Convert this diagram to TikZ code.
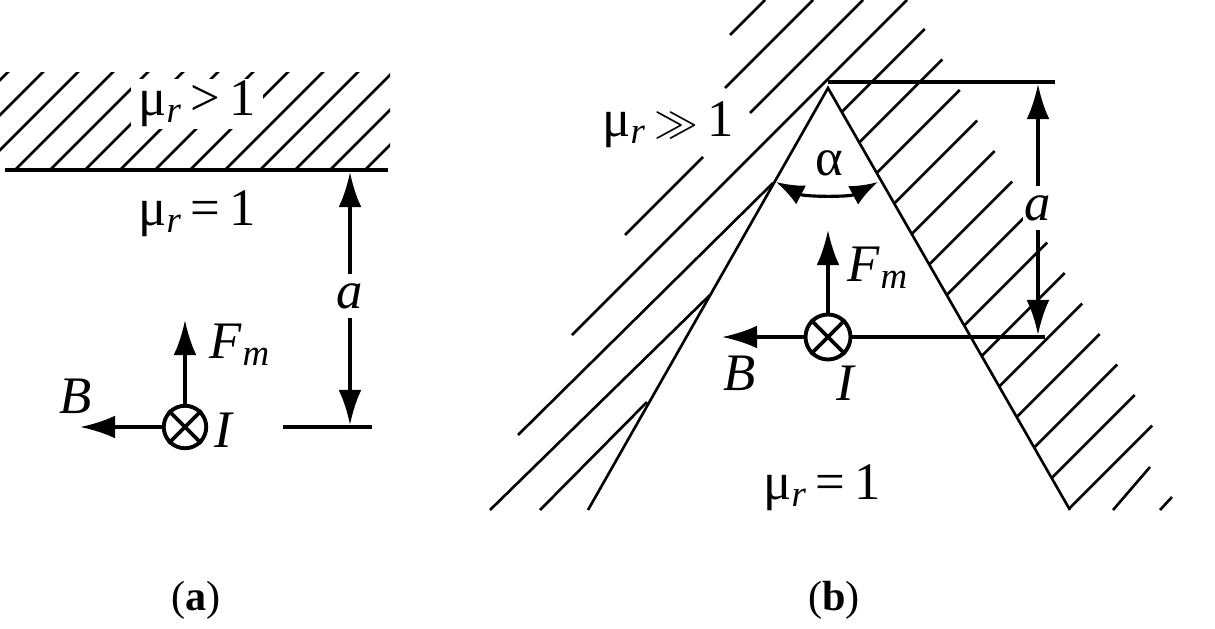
\documentclass[tikz,border=0pt]{standalone}
\usepackage{fontspec}
\setmainfont{Liberation Serif}
\usetikzlibrary{arrows.meta}
\begin{document}
\begin{tikzpicture}[x=0.02cm,y=-0.02cm,
  hl/.style={line width=1.5pt},
  thick2/.style={line width=2.2pt},
  arr/.style={line width=2pt,-{Latex[length=20pt,width=13pt]}},
  lab/.style={font=\fontsize{30}{32}\selectfont, inner sep=1pt},
  captxt/.style={font=\fontsize{24}{26}\selectfont}]
\useasboundingbox (0,0) rectangle (1215,629);
% ---------- (a)
\begin{scope}
\clip (0,72) rectangle (390,170);
\foreach \x in {-90,-55,...,400} \draw[hl] (\x,170) -- ++(110,-110);
\end{scope}
\node[lab,fill=white,inner xsep=4pt] (mua) at (197,104) {μ\textsubscript{\textit{r}}\,>\,1};
\draw[thick2] (5,170) -- (388,170);
\node[lab] (mua1) at (197,214) {μ\textsubscript{\textit{r}}\,=\,1};
\node[draw,circle,thick2,minimum size=0.85cm,inner sep=0] (Ia) at (185,427) {};
\draw[thick2] (Ia.north west) -- (Ia.south east) (Ia.north east) -- (Ia.south west);
\coordinate (fa) at (185,320);
\coordinate (ba) at (80,427);
\draw[arr] (Ia.north) -- (fa);
\draw[arr] (Ia.west) -- (ba);
\node[lab] (Fma) at (240,345) {\textit{F}\textsubscript{\textit{m}}};
\node[lab] (Ba) at (76,396) {\textit{B}};
\node[lab] (Ila) at (224,430) {\textit{I}};
\coordinate (da1) at (283,427); \coordinate (da2) at (372,427);
\draw[thick2] (da1) -- (da2);
\coordinate (ta) at (350,172); \coordinate (ba2) at (350,425);
\node[lab,fill=white,inner ysep=5pt] (aa) at (350,296) {\textit{a}};
\draw[arr] (aa.north) -- (ta);
\draw[arr] (aa.south) -- (ba2);
\node[captxt] (capa) at (196,600) {(\textbf{a})};
% ---------- (b)
\coordinate (apex) at (828,88);
\coordinate (lb) at (588,510);
\coordinate (rb) at (1070,510);
\draw[hl] (lb) -- (apex) -- (rb);
% left hatch
\draw[hl] (540,510) -- (647,402);
\draw[hl] (490,510) -- (710,295);
\draw[hl] (518,435) -- (773,183);
\draw[hl] (572,335) -- (907,0);
\draw[hl] (625,235) -- (703,157);
\draw[hl] (750,113) -- (863,0);
\draw[hl] (725,88) -- (813,0);
\draw[hl] (730,35) -- (765,0);
% right hatch
\foreach \y in {112,142.5,...,512} {
  \pgfmathsetmacro{\xb}{828+(\y-88)*0.5735}
  \draw[hl] (\xb,\y) -- ++(83,-83);
}
\draw[hl] (1113,510) -- (1150,467);
\draw[hl] (1160,510) -- (1172,497);
\node[lab,fill=white] (mub) at (668,125) {μ\textsubscript{\textit{r}}\,$\gg$\,1};
\node[lab] (mub1) at (822,488) {μ\textsubscript{\textit{r}}\,=\,1};
\draw[thick2] (828,82) -- (1055,82);
\node[draw,circle,thick2,fill=white,minimum size=0.9cm,inner sep=0] (Ib) at (828,337) {};
\draw[thick2] (Ib.north west) -- (Ib.south east) (Ib.north east) -- (Ib.south west);
\coordinate (fb) at (828,230);
\coordinate (bb) at (722,337);
\coordinate (hr) at (1045,337);
\draw[thick2] (Ib.east) -- (hr);
\draw[arr] (Ib.north) -- (fb);
\draw[arr] (Ib.west) -- (bb);
\node[lab] (Fmb) at (878,268) {\textit{F}\textsubscript{\textit{m}}};
\node[lab] (Bb) at (740,373) {\textit{B}};
\node[lab] (Ilb) at (846,383) {\textit{I}};
\coordinate (tb) at (1038,84); \coordinate (bb2) at (1038,335);
\node[lab,fill=white,inner ysep=5pt] (ab) at (1038,208) {\textit{a}};
\draw[arr] (ab.north) -- (tb);
\draw[arr] (ab.south) -- (bb2);
\node[lab] (alpha) at (829,163) {α};
\coordinate (al) at (776,182); \coordinate (ar) at (878,182);
\draw[line width=1.8pt,{Latex[length=16pt,width=12pt]}-{Latex[length=16pt,width=12pt]}]
  (al) .. controls (805,197) and (850,197) .. (ar);
\node[captxt] (capb) at (834,600) {(\textbf{b})};
\end{tikzpicture}
\end{document}
